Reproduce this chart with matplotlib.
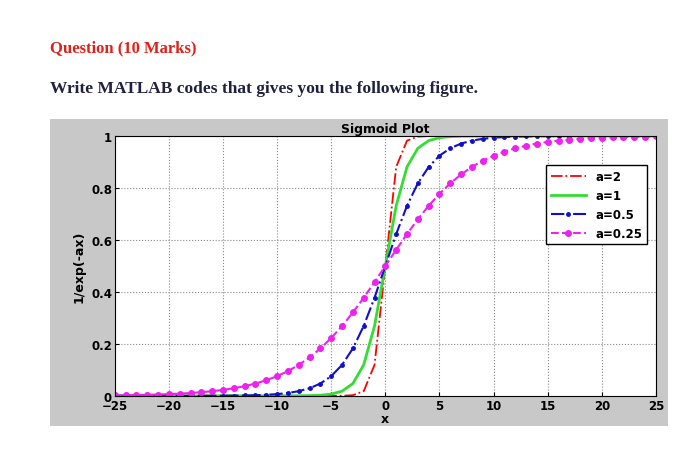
import numpy as np
import matplotlib.pyplot as plt

# x values -25..25 step 1
x = np.arange(-25, 26)

pos_a2 = [0.5, 0.8808, 0.9820, 0.9975, 0.9997, 1.0, 1.0, 1.0, 1.0, 1.0, 1.0, 1.0, 1.0,
          1.0, 1.0, 1.0, 1.0, 1.0, 1.0, 1.0, 1.0, 1.0, 1.0, 1.0, 1.0, 1.0]
pos_a1 = [0.5, 0.7311, 0.8808, 0.9526, 0.9820, 0.9933, 0.9975, 0.9991, 0.9997, 0.9999, 1.0,
          1.0, 1.0, 1.0, 1.0, 1.0, 1.0, 1.0, 1.0, 1.0, 1.0, 1.0, 1.0, 1.0, 1.0, 1.0]
pos_a05 = [0.5, 0.6225, 0.7311, 0.8176, 0.8808, 0.9241, 0.9526, 0.9707, 0.9820, 0.9890,
           0.9933, 0.9959, 0.9975, 0.9985, 0.9991, 0.9994, 0.9997, 0.9998, 0.9999, 0.9999,
           1.0, 1.0, 1.0, 1.0, 1.0, 1.0]
pos_a025 = [0.5, 0.5622, 0.6225, 0.6792, 0.7311, 0.7773, 0.8176, 0.8520, 0.8808, 0.9047,
            0.9241, 0.9399, 0.9526, 0.9627, 0.9707, 0.9770, 0.9820, 0.9859, 0.9890, 0.9914,
            0.9933, 0.9948, 0.9959, 0.9968, 0.9975, 0.9981]

neg_a2 = [0.0, 0.0, 0.0, 0.0, 0.0, 0.0, 0.0, 0.0, 0.0, 0.0, 0.0, 0.0, 0.0, 0.0, 0.0, 0.0,
          0.0, 0.0, 0.0, 0.0, 0.0, 0.0003, 0.0025, 0.0180, 0.1192]
neg_a1 = [0.0, 0.0, 0.0, 0.0, 0.0, 0.0, 0.0, 0.0, 0.0, 0.0, 0.0, 0.0, 0.0, 0.0, 0.0, 0.0,
          0.0001, 0.0003, 0.0009, 0.0025, 0.0067, 0.0180, 0.0474, 0.1192, 0.2689]
neg_a05 = [0.0, 0.0, 0.0, 0.0, 0.0, 0.0, 0.0001, 0.0001, 0.0002, 0.0003, 0.0006, 0.0009,
           0.0015, 0.0025, 0.0041, 0.0067, 0.0110, 0.0180, 0.0293, 0.0474, 0.0759, 0.1192,
           0.1824, 0.2689, 0.3775]
neg_a025 = [0.0019, 0.0025, 0.0032, 0.0041, 0.0052, 0.0067, 0.0086, 0.0110, 0.0141, 0.0180,
            0.0230, 0.0293, 0.0373, 0.0474, 0.0601, 0.0759, 0.0953, 0.1192, 0.1480, 0.1824,
            0.2227, 0.2689, 0.3208, 0.3775, 0.4378]

y_a2 = neg_a2 + pos_a2
y_a1 = neg_a1 + pos_a1
y_a05 = neg_a05 + pos_a05
y_a025 = neg_a025 + pos_a025

fig = plt.figure(figsize=(7, 4.52), dpi=100)
fig.patch.set_facecolor('white')

# grey MATLAB figure panel behind the axes
bg = fig.add_axes([0.071, 0.055, 0.883, 0.679], zorder=0)
bg.set_facecolor('#c8c8c8')
bg.set_xticks([])
bg.set_yticks([])
for s in bg.spines.values():
    s.set_visible(False)

fig.text(0.071, 0.893, "Question (10 Marks)", color='#e0201a', fontsize=12,
         family='Liberation Serif', fontweight='bold', va='center')
fig.text(0.071, 0.802, "Write MATLAB codes that gives you the following figure.", color='#202040',
         fontsize=12.5, family='Liberation Serif', fontweight='bold', va='center')

ax = fig.add_axes([0.164, 0.122, 0.773, 0.575], zorder=1)
ax.plot(x, y_a2, color='red', linestyle='-.', linewidth=1.3, label='a=2')
ax.plot(x, y_a1, color='#33dd33', linestyle='-', linewidth=2, label='a=1')
ax.plot(x, y_a05, color='#1010cc', linestyle='-.', linewidth=1.5, marker='.', markersize=5, label='a=0.5')
ax.plot(x, y_a025, color='#ee22ee', linestyle='--', linewidth=1.5, marker='o', markersize=4, label='a=0.25')

ax.set_xlim(-25, 25)
ax.set_ylim(0, 1)
ax.set_xticks(range(-25, 26, 5))
ax.set_yticks([0, 0.2, 0.4, 0.6, 0.8, 1])
ax.set_yticklabels(['0', '0.2', '0.4', '0.6', '0.8', '1'])
ax.grid(True, linestyle=':', color='#888888', linewidth=0.8)
ax.tick_params(direction='in', labelsize=8.5, length=3, pad=2)
for lab in ax.get_xticklabels() + ax.get_yticklabels():
    lab.set_fontweight('bold')
ax.set_xlabel('x', fontsize=9, fontweight='bold', labelpad=0)
ax.set_ylabel('1/exp(-ax)', fontsize=9, fontweight='bold')
ax.set_title('Sigmoid Plot', fontsize=9, fontweight='bold', pad=3)
leg = ax.legend(loc='upper right', bbox_to_anchor=(0.995, 0.91), fontsize=8.5, fancybox=False,
                framealpha=1, edgecolor='black', handlelength=3, labelspacing=0.5)
for t in leg.get_texts():
    t.set_fontweight('bold')

fig.savefig('out.png', dpi=100)
